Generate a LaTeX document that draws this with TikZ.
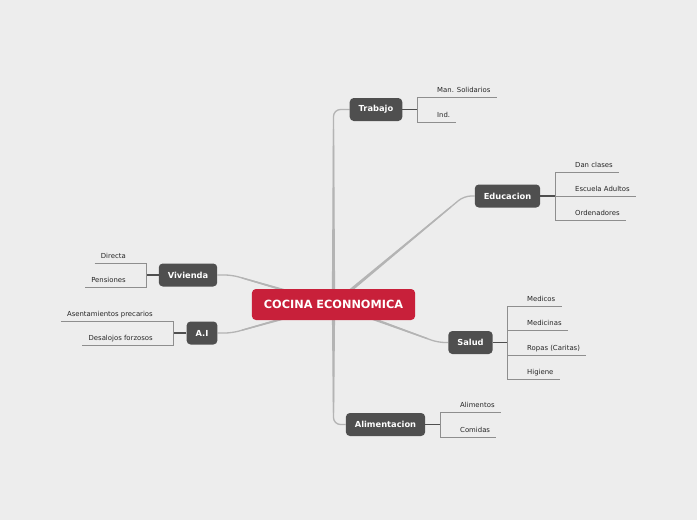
\documentclass[tikz,border=0pt]{standalone}
\usepackage{fontspec}
\setmainfont{DejaVu Sans}
\usepackage{tikz}
\usetikzlibrary{calc, positioning}
\pgfdeclarelayer{bg}
\pgfsetlayers{bg,main}
\definecolor{paper}{HTML}{EDEDED}
\definecolor{topicgray}{HTML}{4F4F4F}
\definecolor{rootred}{HTML}{C8203A}
\definecolor{branchgray}{HTML}{B4B4B4}
\definecolor{twiggray}{HTML}{8E8E8E}
\tikzset{
  topic/.style={fill=topicgray, text=white, rounded corners=4pt, minimum height=23pt, inner xsep=9pt, font=\fontsize{8.3}{10}\selectfont\bfseries},
  central/.style={topic, fill=rootred, minimum height=31pt, inner xsep=12pt, font=\fontsize{11.3}{13}\selectfont\bfseries},
  leafr/.style={anchor=south west, inner xsep=6pt, inner ysep=3pt, text height=5.2pt, text depth=1.5pt, text=black!85, font=\fontsize{6.9}{8}\selectfont},
  leafl/.style={leafr, anchor=south east},
  branchline/.style={draw=branchgray, line width=1.3pt, rounded corners=7pt},
  stem/.style={draw=topicgray, line width=1.2pt},
  twigline/.style={draw=twiggray, line width=0.7pt}
}
\begin{document}
\begin{tikzpicture}[x=1pt, y=-1pt]
% nodes %
\node[central] (cocina) at (333.5,304.5) {COCINA ECONNOMICA};
\node[topic] (trabajo) at (376,109.5) {Trabajo};
\node[topic] (educacion) at (507.5,196) {Educacion};
\node[topic] (vivienda) at (188,275) {Vivienda};
\node[topic] (ai) at (202,333) {A.I};
\node[topic] (salud) at (470.5,342.5) {Salud};
\node[topic] (alimentacion) at (385.5,424.5) {Alimentacion};
% leaves %
\node[leafr] (mans) at (431,97) {Man. Solidarios};
\node[leafr] (ind) at (431,122) {Ind.};
\node[leafr] (dan) at (569,172) {Dan clases};
\node[leafr] (escuela) at (569,196) {Escuela Adultos};
\node[leafr] (orden) at (569,220) {Ordenadores};
\node[leafl] (directa) at (132,263) {Directa};
\node[leafl] (pensiones) at (132,287) {Pensiones};
\node[leafl] (asent) at (159,321) {Asentamientos precarios};
\node[leafl] (desal) at (159,345) {Desalojos forzosos};
\node[leafr] (medicos) at (521,306) {Medicos};
\node[leafr] (medicinas) at (521,330) {Medicinas};
\node[leafr] (ropas) at (521,355) {Ropas (Caritas)};
\node[leafr] (higiene) at (521,379) {Higiene};
\node[leafr] (alimentos) at (454,412) {Alimentos};
\node[leafr] (comidas) at (454,437) {Comidas};
% bend and bracket points %
\coordinate (tbend) at (cocina.center |- trabajo.west);
\coordinate (lbend) at (cocina.center |- alimentacion.west);
\coordinate (ebend) at (464,196);
\coordinate (sbend) at (438,342.5);
\coordinate (vbend) at (232,275);
\coordinate (aibend) at (232,333);
\coordinate (tb) at (417,109.5);
\coordinate (eb) at (555,196);
\coordinate (vb) at (146,275);
\coordinate (ab) at (173,333);
\coordinate (sb) at (507,342.5);
\coordinate (lb) at (440,424.5);
% edges %
\begin{pgfonlayer}{bg}
\fill[paper] (0,0) rectangle (697,520);
\draw[branchline] (cocina.center) -- (tbend) -- (trabajo.west);
\draw[branchline] (cocina.center) -- (lbend) -- (alimentacion.west);
\draw[branchline] (cocina.center) -- (ebend) -- (educacion.west);
\draw[branchline] (cocina.center) -- (sbend) -- (salud.west);
\draw[branchline] (cocina.center) -- (vbend) -- (vivienda.east);
\draw[branchline] (cocina.center) -- (aibend) -- (ai.east);
% tapering near the centre
\foreach \b in {tbend, lbend, ebend, sbend, vbend, aibend} {
  \coordinate (tip) at ($(cocina.center)!0.9!(\b)$);
  \fill[branchgray] ($(cocina.center)!1.7pt!90:(tip)$) -- ($(cocina.center)!1.7pt!-90:(tip)$)
    -- ($(tip)!0.65pt!90:(cocina.center)$) -- ($(tip)!0.65pt!-90:(cocina.center)$) -- cycle;
}
\end{pgfonlayer}
\draw[stem] (trabajo.east) -- (tb);
\draw[stem] (educacion.east) -- (eb);
\draw[stem] (vivienda.west) -- (vb);
\draw[stem] (ai.west) -- (ab);
\draw[stem] (salud.east) -- (sb);
\draw[stem] (alimentacion.east) -- (lb);
\draw[twigline] (mans.south east) -- (tb |- mans.south) -- (tb |- ind.south) -- (ind.south east);
\draw[twigline] (dan.south east) -- (eb |- dan.south) -- (eb |- orden.south) -- (orden.south east);
\draw[twigline] (eb |- escuela.south) -- (escuela.south east);
\draw[twigline] (directa.south west) -- (vb |- directa.south) -- (vb |- pensiones.south) -- (pensiones.south west);
\draw[twigline] (asent.south west) -- (ab |- asent.south) -- (ab |- desal.south) -- (desal.south west);
\draw[twigline] (medicos.south east) -- (sb |- medicos.south) -- (sb |- higiene.south) -- (higiene.south east);
\foreach \l in {medicinas, ropas}
  \draw[twigline] (sb |- \l.south) -- (\l.south east);
\draw[twigline] (alimentos.south east) -- (lb |- alimentos.south) -- (lb |- comidas.south) -- (comidas.south east);
\end{tikzpicture}
\end{document}
